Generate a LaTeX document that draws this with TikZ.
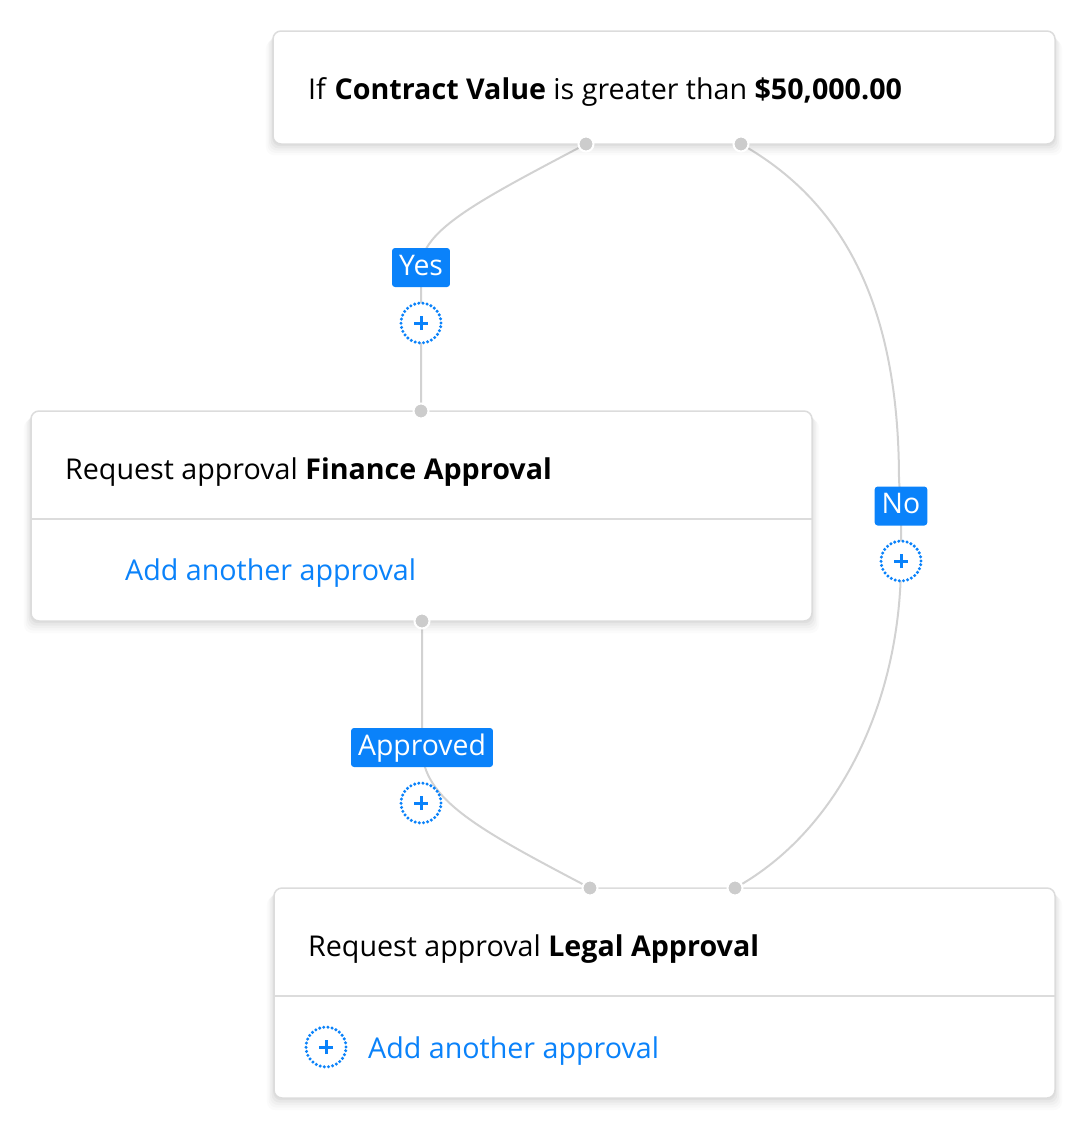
\documentclass[tikz,border=0pt]{standalone}
\usepackage{fontspec}
\setmainfont{Open Sans}
\usepackage{xcolor}
\usetikzlibrary{shadows,positioning,backgrounds}

\definecolor{flowblue}{HTML}{0A82FA}
\definecolor{wiregray}{HTML}{D2D2D2}
\definecolor{cardedge}{HTML}{DCDCDC}
\definecolor{dotgray}{HTML}{CCCCCC}

\tikzset{
    card/.style={
        draw=cardedge,
        line width=1.5pt,
        fill=white,
        rounded corners=8pt,
        inner sep=0pt,
        minimum width=781pt,
        general shadow={shadow yshift=-2pt, opacity=.035, fill=black, shadow scale=1.002},
        general shadow={shadow yshift=-4pt, opacity=.03, fill=black, shadow scale=1.006},
        general shadow={shadow yshift=-6pt, opacity=.025, fill=black, shadow scale=1.010},
        general shadow={shadow yshift=-8pt, opacity=.02, fill=black, shadow scale=1.014},
        general shadow={shadow yshift=-10pt, opacity=.015, fill=black, shadow scale=1.018}
    },
    cardtext/.style={anchor=base west, inner sep=0pt, font=\fontsize{28.65}{34}\selectfont},
    addtext/.style={cardtext, text=flowblue},
    branch/.style={
        fill=flowblue,
        text=white,
        rounded corners=3pt,
        inner xsep=7pt,
        inner ysep=6pt,
        text height=21pt,
        text depth=6pt,
        font=\fontsize{28.4}{30}\selectfont
    },
    addplus/.style={
        circle,
        draw=flowblue,
        fill=white,
        line width=3.4pt,
        line cap=round,
        dash pattern=on 0pt off 4.2pt,
        minimum size=40pt,
        inner sep=0pt,
        path picture={
            \draw[flowblue, line width=3pt, solid, line cap=butt]
                ([xshift=-7pt]path picture bounding box.center) -- ++(14pt,0pt)
                ([yshift=-7pt]path picture bounding box.center) -- ++(0pt,14pt);
        }
    },
    port/.style={circle, fill=dotgray, draw=white, line width=2pt, minimum size=15pt, inner sep=0pt},
    wire/.style={draw=wiregray, line width=2pt}
}

\begin{document}
\begin{tikzpicture}[x=1pt, y=-1pt]
    \useasboundingbox (0,0) rectangle (1083,1128);

    % cards
    \node[card, minimum width=782pt, minimum height=113pt] (cond) at (664,87.5) {};
    \node[card, minimum height=210pt] (finance) at (421.5,516) {};
    \node[card, minimum height=210pt] (legal) at (664.5,993) {};
    \draw[cardedge, line width=1.5pt] (31,519) -- (812,519);
    \draw[cardedge, line width=1.5pt] (274,996) -- (1055,996);

    % texts
    \node[cardtext] (cond-text) at (308,99) {If \textbf{Contract Value} is greater than \textbf{\$50,000.00}};
    \node[cardtext] (finance-text) at (65,479) {Request approval \textbf{Finance Approval}};
    \node[addtext] (finance-add) at (125,580) {Add another approval};
    \node[cardtext] (legal-text) at (308,956) {Request approval \textbf{Legal Approval}};
    \node[addplus] (legal-plus) at (326,1047) {};
    \node[addtext] (legal-add) at (368,1058) {Add another approval};

    % ports
    \node[port] (cond-yes) at (586,144) {};
    \node[port] (cond-no) at (741,144) {};
    \node[port] (finance-in) at (421,411) {};
    \node[port] (finance-out) at (422,621) {};
    \node[port] (legal-in1) at (590,888) {};
    \node[port] (legal-in2) at (735,888) {};

    % branch labels
    \node[branch] (yes) at (421,267.5) {Yes};
    \node[addplus] (yes-plus) at (421,323) {};
    \node[branch] (no) at (901,506) {No};
    \node[addplus] (no-plus) at (901,561) {};
    \node[branch] (approved) at (422,747.5) {Approved};
    \node[addplus] (approved-plus) at (421,803) {};

    % wires
    \begin{scope}[on background layer]
        \draw[wire] (cond-yes.center) .. controls (480,200) and (421,230) .. (yes.center)
            -- (yes-plus.center) -- (finance-in.center);
        \draw[wire] (cond-no.center) .. controls (840,200) and (899,300) .. (899,480)
            -- (no.center) -- (no-plus.center);
        \draw[wire] (no-plus.center) .. controls (901,700) and (840,830) .. (legal-in2.center);
        \draw[wire] (finance-out.center) -- (approved.center)
            .. controls (422,800) and (480,830) .. (legal-in1.center);
    \end{scope}
\end{tikzpicture}
\end{document}
